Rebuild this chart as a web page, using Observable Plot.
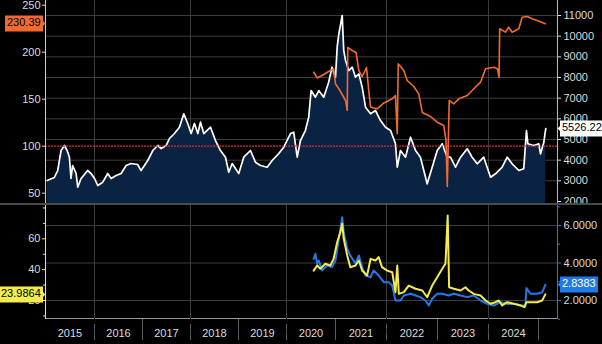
<!DOCTYPE html>
<html><head><meta charset="utf-8">
<script src="https://cdn.jsdelivr.net/npm/d3@7"></script>
<script src="https://cdn.jsdelivr.net/npm/@observablehq/plot@0.6"></script>
<style>
html,body{margin:0;padding:0;background:#000;}
#chart{position:relative;width:602px;height:344px;background:#000;overflow:hidden;font-family:"Liberation Sans",Arial,sans-serif;}
#chart svg{position:absolute;left:0;top:0;}
#sep{position:absolute;left:0;top:203px;width:602px;height:2px;background:#4a4a4a;z-index:5;}
</style></head><body><div id="chart"><div id="sep"></div></div>
<script>
// ---- data ----
const indexDates = ["2015-01-13","2015-03-08","2015-04-02","2015-04-27","2015-05-22","2015-06-11","2015-06-28","2015-07-10","2015-07-22","2015-08-17","2015-08-29","2015-09-23","2015-11-11","2015-12-06","2016-01-01","2016-01-26","2016-03-04","2016-04-11","2016-05-07","2016-06-14","2016-07-22","2016-08-29","2016-10-06","2016-11-25","2016-12-21","2017-02-10","2017-03-20","2017-04-27","2017-05-23","2017-06-30","2017-07-25","2017-09-01","2017-10-09","2017-11-11","2017-12-11","2018-01-06","2018-01-31","2018-02-26","2018-03-18","2018-04-12","2018-06-02","2018-07-10","2018-08-17","2018-09-24","2018-10-19","2018-11-14","2019-01-03","2019-02-10","2019-04-02","2019-05-10","2019-06-17","2019-08-07","2019-09-14","2019-11-03","2019-12-11","2020-01-31","2020-02-24","2020-03-21","2020-04-14","2020-05-21","2020-06-15","2020-07-03","2020-08-04","2020-08-29","2020-10-05","2020-11-11","2020-12-06","2021-01-01","2021-01-13","2021-01-25","2021-02-18","2021-03-01","2021-03-14","2021-04-06","2021-05-01","2021-05-24","2021-06-17","2021-07-11","2021-08-04","2021-09-09","2021-10-14","2021-11-19","2021-12-25","2022-01-30","2022-03-06","2022-03-19","2022-04-11","2022-05-17","2022-06-22","2022-07-28","2022-09-01","2022-10-19","2022-11-24","2022-12-30","2023-02-04","2023-03-11","2023-04-04","2023-05-10","2023-06-15","2023-08-02","2023-09-06","2023-10-12","2023-11-28","2024-01-16","2024-02-21","2024-04-10","2024-05-17","2024-06-22","2024-08-10","2024-09-15","2024-10-05","2024-10-15","2024-11-27","2025-01-03","2025-01-16","2025-02-09","2025-02-23"];
const indexValues = [3016,3161,3500,4467,4709,4467,4143,3113,3742,3355,2692,3113,3500,3355,3113,2774,2934,3355,3113,3258,3355,3742,3838,3790,3500,3984,4467,4709,4564,4709,5048,5290,5595,6243,5774,5290,5774,5290,5837,5290,5595,4951,4467,4143,3418,3838,3355,4143,4467,3901,3742,3659,3984,4322,4627,5290,5353,4143,4951,5435,6078,7370,7046,7370,7046,7772,8497,8014,9465,10113,10999,9305,8822,8338,8497,8014,8178,7530,6562,6243,6403,5919,5595,5435,4806,3659,4467,4143,5111,4467,4143,2856,3659,4467,4792,4143,4143,3659,4143,4550,4143,3824,4143,3176,3340,3659,4143,3824,3500,3582,5435,4792,4709,4792,4308,4869,5526.22];

const orangeDates = ["2020-07-22","2020-08-17","2020-09-23","2020-11-11","2020-12-18","2021-01-01","2021-01-25","2021-03-01","2021-03-14","2021-03-26","2021-03-30","2021-05-01","2021-05-28","2021-06-17","2021-07-11","2021-08-11","2021-08-27","2021-09-09","2021-10-26","2021-12-13","2022-02-11","2022-03-06","2022-03-19","2022-03-26","2022-05-05","2022-05-29","2022-07-15","2022-08-20","2022-09-14","2022-11-12","2022-12-30","2023-02-15","2023-03-03","2023-03-12","2023-03-26","2023-04-28","2023-06-02","2023-08-02","2023-09-18","2023-11-05","2023-12-11","2024-02-09","2024-03-07","2024-03-18","2024-03-23","2024-05-04","2024-05-28","2024-06-22","2024-08-10","2024-09-03","2024-10-10","2024-11-15","2024-12-22","2025-02-20"];
const orangeValues = [178.7,172.6,175.2,179.5,182.3,166.4,161.1,152.1,148.6,138.0,205.0,201.8,199.7,180.5,174.1,183.7,159.3,141.5,139.8,146.0,150.4,153.9,113.2,187.7,180.5,169.9,163.5,155.7,135.9,131.6,125.5,122.0,106.1,57.1,148.6,145.1,150.4,153.9,161.1,168.1,182.3,184.0,182.3,173.1,224.9,221.3,226.6,221.3,224.9,237.2,238.0,235.5,233.7,230.39];

const yellowDates = ["2020-07-22","2020-08-17","2020-09-10","2020-10-17","2020-11-24","2020-12-18","2021-01-13","2021-02-05","2021-02-18","2021-03-01","2021-03-26","2021-04-17","2021-05-24","2021-06-17","2021-07-11","2021-08-15","2021-09-09","2021-10-14","2021-11-06","2021-11-30","2022-01-06","2022-02-11","2022-03-06","2022-03-19","2022-03-30","2022-05-05","2022-06-09","2022-07-28","2022-09-14","2022-10-19","2022-11-24","2022-12-30","2023-02-04","2023-02-27","2023-03-15","2023-03-25","2023-04-28","2023-06-15","2023-07-20","2023-08-12","2023-09-18","2023-11-05","2023-12-11","2024-01-16","2024-02-21","2024-03-16","2024-04-10","2024-05-17","2024-07-04","2024-08-22","2024-09-20","2024-10-05","2024-11-03","2024-12-22","2025-01-28","2025-02-20"];
const yellowValues = [39.4,42.7,40.6,43.8,42.7,47.0,57.8,64.3,69.7,60.0,49.2,41.6,42.7,45.9,39.4,36.2,47.0,45.9,48.1,41.6,39.4,38.3,25.4,42.7,24.3,25.4,29.7,27.6,26.5,22.1,29.7,35.1,40.6,43.8,75.1,28.6,27.6,26.5,28.6,26.5,24.3,23.2,20.0,17.9,18.9,20.0,16.8,18.9,17.9,16.8,15.7,18.9,18.9,18.9,20.0,23.9864];

const blueDates = ["2020-07-22","2020-08-04","2020-08-17","2020-08-29","2020-09-23","2020-10-30","2020-12-06","2021-01-01","2021-01-25","2021-02-18","2021-03-01","2021-03-26","2021-04-17","2021-05-24","2021-06-17","2021-07-11","2021-08-04","2021-09-09","2021-10-01","2021-11-06","2021-12-13","2022-01-17","2022-02-11","2022-03-06","2022-04-11","2022-05-05","2022-06-22","2022-07-28","2022-09-01","2022-10-07","2022-10-31","2022-11-24","2022-12-30","2023-02-04","2023-03-22","2023-04-28","2023-06-15","2023-08-02","2023-09-18","2023-11-05","2023-12-22","2024-02-09","2024-03-28","2024-05-17","2024-07-15","2024-09-03","2024-09-27","2024-10-05","2024-11-03","2024-12-22","2025-01-28","2025-02-20"];
const blueValues = [4.22,4.49,3.96,4.13,3.60,3.87,3.78,4.13,5.29,6.44,5.64,4.76,4.40,3.96,4.40,3.78,3.33,3.24,3.60,3.33,2.98,2.98,2.80,2.00,2.00,2.27,2.36,2.27,2.18,2.00,1.73,2.09,2.36,2.36,2.27,2.36,2.27,2.18,2.27,2.00,1.82,1.73,1.91,1.82,1.82,1.73,1.73,2.66,2.36,2.36,2.44,2.8383];

const years = [2015,2016,2017,2018,2019,2020,2021,2022,2023,2024];
const gridYears = [2016,2018,2020,2022,2024];
const topRightTicks = [2000,3000,4000,5000,6000,7000,8000,9000,10000,11000];
const topLeftTicks = [50,100,150,200,250];
const botLeftTicks = [20,40,60];
const botLeftMinor = [10,30,50,70,80];
const botRightTicks = [2,4,6];
const botRightMinor = [1,3,5,7];
const refLevel = 100;

// ---- build tables ----
const toRows = (ds, vs) => ds.map((d, i) => ({date: new Date(d), v: vs[i]}));
const indexData = toRows(indexDates, indexValues);
const orangeData = toRows(orangeDates, orangeValues);
const yellowData = toRows(yellowDates, yellowValues);
const blueData = toRows(blueDates, blueValues);
const jan1 = y => new Date(Date.UTC(y, 0, 1));
const mid = y => new Date(Date.UTC(y, 6, 2));

const C = {white:"#ffffff", navy:"#0b2343", orange:"#f26a30", yellow:"#f3ec4b", blue:"#2079e8", grid:"#3d3d3d", label:"#dcdcdc", red:"#e3233c"};
const FONT = '"Liberation Sans", Arial, sans-serif';

const xScale = {
  type: "utc",
  domain: [...years.map(jan1), jan1(2025), new Date("2025-05-20")],
  range: [45,94,142,190,238,286,335,386,437,488,538,557]
};
const W = 602, H = 344;
const topM = {marginTop: 0, marginBottom: 140, marginLeft: 45, marginRight: 45};
const botM = {marginTop: 205, marginBottom: 26, marginLeft: 45, marginRight: 45};
const tipOpts = {stroke: "none", pathFilter: "none", textPadding: 2, pointerSize: 5, fontSize: 11, fontFamily: FONT};

const layers = [];

// Top panel, right scale (index, white area)
layers.push(Plot.plot({
  width: W, height: H, ...topM,
  style: {background: "#000", color: "#000", fontFamily: FONT, fontSize: "11px"},
  x: xScale,
  y: {domain: [2000, 11000], range: [201, 15]},
  marks: [
    Plot.gridY(topRightTicks.slice(1), {stroke: C.grid, strokeOpacity: 1}),
    Plot.gridX(gridYears.map(jan1), {stroke: C.grid, strokeOpacity: 1}),
    Plot.areaY(indexData, {x: "date", y: "v", fill: C.navy, clip: true}),
    Plot.lineY(indexData, {x: "date", y: "v", stroke: C.white, strokeWidth: 1.7, clip: true}),
    Plot.frame({anchor: "right", stroke: "#bbbbbb"}),
    Plot.axisY(topRightTicks, {anchor: "right", label: null, tickSize: 3, tickPadding: 3, color: C.label, tickFormat: d => String(d)}),
    Plot.tip([indexData.at(-1)], {y: "v", frameAnchor: "right", anchor: "left", title: d => d.v.toFixed(2), fill: "#ffffff", ...tipOpts})
  ]
}));

// Top panel, left scale (orange line, 100 reference)
layers.push(Plot.plot({
  width: W, height: H, ...topM,
  style: {background: "transparent", color: "#000", fontFamily: FONT, fontSize: "11px"},
  x: xScale,
  y: {domain: [50, 250], range: [192.7, 4.7]},
  marks: [
    Plot.ruleY([refLevel], {stroke: C.red, strokeWidth: 1.3, strokeDasharray: "2,1"}),
    Plot.lineY(orangeData, {x: "date", y: "v", stroke: C.orange, strokeWidth: 1.6}),
    Plot.frame({anchor: "left", stroke: "#cccccc"}),
    Plot.axisY(topLeftTicks, {anchor: "left", label: null, tickSize: 3, tickPadding: 2, color: C.label}),
    Plot.tip([orangeData.at(-1)], {y: "v", frameAnchor: "left", anchor: "right", title: d => d.v.toFixed(2), fill: C.orange, ...tipOpts})
  ]
}));

// Bottom panel, right scale (blue)
layers.push(Plot.plot({
  width: W, height: H, ...botM,
  style: {background: "transparent", color: "#fff", fontFamily: FONT, fontSize: "11px"},
  x: xScale,
  y: {domain: [2, 6], range: [300, 225]},
  marks: [
    Plot.gridY(botRightTicks, {stroke: C.grid, strokeOpacity: 1}),
    Plot.gridX(gridYears.map(jan1), {stroke: C.grid, strokeOpacity: 1}),
    Plot.axisX(years.slice(1).concat([2025]).map(jan1), {label: null, tickSize: 22, fill: "none", stroke: "#5a5a5a"}),
    Plot.axisX(years.map(mid), {label: null, tickSize: 0, tickPadding: 11, tickFormat: d => String(d.getUTCFullYear()), fill: C.label, fontSize: 11}),
    Plot.frame({anchor: "bottom", stroke: "#9a9a9a"}),
    Plot.lineY(blueData, {x: "date", y: "v", stroke: C.blue, strokeWidth: 2}),
    Plot.frame({anchor: "right", stroke: C.blue}),
    Plot.axisY(botRightMinor, {anchor: "right", label: null, tickSize: 2, fill: "none", stroke: C.blue}),
    Plot.axisY(botRightTicks, {anchor: "right", label: null, tickSize: 3, tickPadding: 3, stroke: C.blue, fill: C.label, tickFormat: d => d.toFixed(4)}),
    Plot.tip([blueData.at(-1)], {y: "v", frameAnchor: "right", anchor: "left", title: d => d.v.toFixed(4), fill: C.blue, ...tipOpts})
  ]
}));

// Bottom panel, left scale (yellow)
layers.push(Plot.plot({
  width: W, height: H, ...botM,
  style: {background: "transparent", color: "#000", fontFamily: FONT, fontSize: "11px"},
  x: xScale,
  y: {domain: [20, 60], range: [300, 238.3]},
  marks: [
    Plot.lineY(yellowData, {x: "date", y: "v", stroke: C.yellow, strokeWidth: 2}),
    Plot.frame({anchor: "left", stroke: C.yellow}),
    Plot.axisY(botLeftMinor, {anchor: "left", label: null, tickSize: 2, fill: "none", stroke: C.yellow}),
    Plot.axisY(botLeftTicks, {anchor: "left", label: null, tickSize: 3, tickPadding: 2, stroke: C.yellow, fill: C.label}),
    Plot.tip([yellowData.at(-1)], {y: "v", frameAnchor: "left", anchor: "right", title: d => d.v.toFixed(4), fill: C.yellow, ...tipOpts})
  ]
}));

const host = document.getElementById("chart");
layers.forEach(l => host.appendChild(l));
</script>
</body></html>
